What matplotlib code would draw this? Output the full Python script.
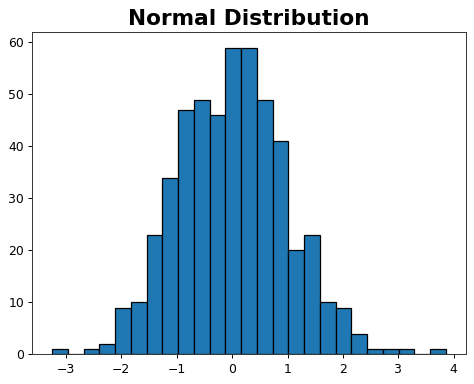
import numpy as np
import matplotlib
matplotlib.use("Agg")
import matplotlib.pyplot as plt

# Histogram data (500 samples, 25 bins)
bin_min = -3.25
bin_max = 3.86
counts = [1, 0, 1, 2, 9, 10, 23, 34, 47, 49, 46, 59, 59,
          49, 41, 20, 23, 10, 9, 4, 1, 1, 1, 0, 1]

edges = np.linspace(bin_min, bin_max, len(counts) + 1)
centers = (edges[:-1] + edges[1:]) / 2

fig = plt.figure(figsize=(4.74, 3.84), dpi=100)
ax = fig.add_axes([32.3 / 474, 1 - 354.3 / 384, 433.4 / 474, 322 / 384])

ax.hist(centers, bins=edges, weights=counts, color="#1f77b4",
        edgecolor="black", linewidth=0.9)

ax.set_title("Normal Distribution", fontsize=15.6, fontweight="bold", pad=5)
ax.tick_params(labelsize=8.9, length=3, width=0.7, pad=3)
for s in ax.spines.values():
    s.set_linewidth(0.7)
    s.set_color("#333333")

fig.savefig("out.png", dpi=100)
